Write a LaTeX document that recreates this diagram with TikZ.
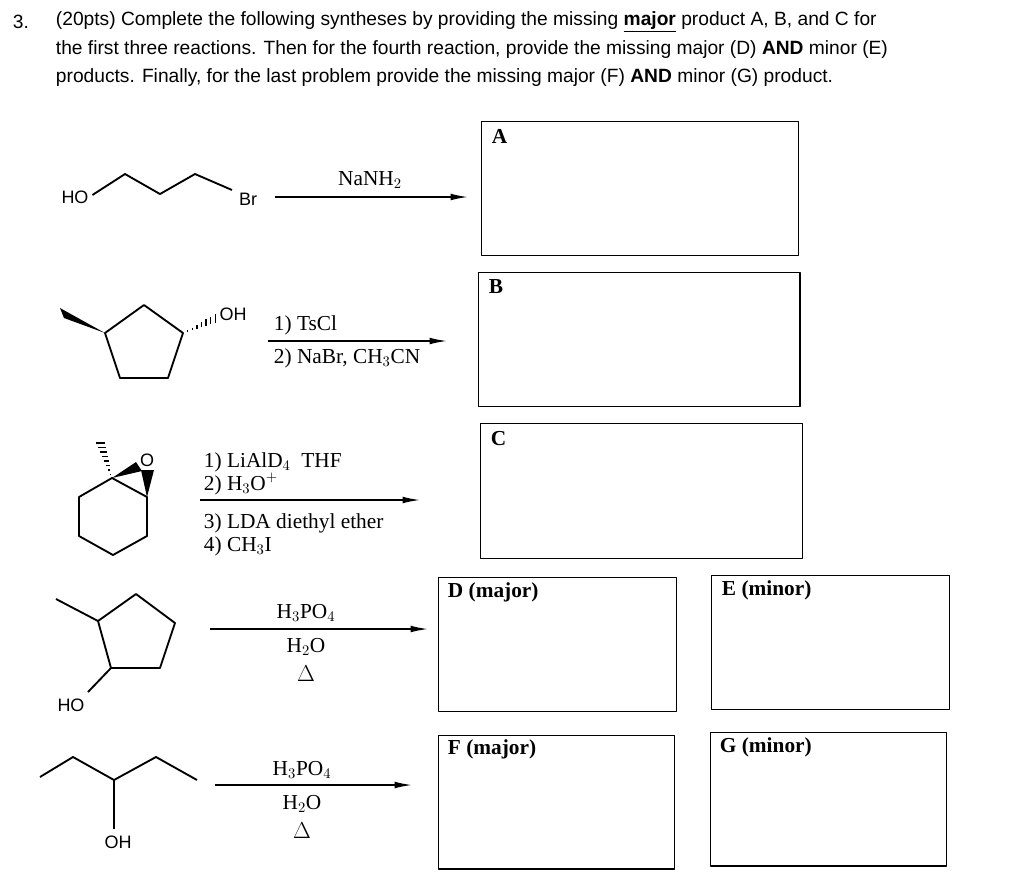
\documentclass[tikz,border=0pt]{standalone}
\usepackage{fontspec}
\setmainfont{Liberation Serif}
\newfontfamily\hsans{Liberation Sans}
\usetikzlibrary{arrows.meta,calc}
\begin{document}
\begin{tikzpicture}[x=0.75pt,y=-0.75pt,line width=1.4pt,line join=round,
  hdr/.style={anchor=west,font=\hsans\fontsize{14.4}{16}\selectfont,inner sep=0},
  atm/.style={font=\hsans\fontsize{13.5}{15}\selectfont,inner sep=0},
  rg/.style={font=\fontsize{16}{18}\selectfont,inner sep=0},
  ans/.style={draw,line width=1.1pt},
  blab/.style={anchor=north west,font=\bfseries\fontsize{16}{18}\selectfont,inner sep=0},
  rarr/.style={-{Latex[length=13pt,width=5pt]},line width=1.1pt},
  wedge/.style={fill=black,draw=none}]
\useasboundingbox (0,0) rectangle (1024,872);
% header
\node[hdr] (h0) at (12,22) {3.};
\node[hdr] (h1) at (55,22) {(20pts) Complete the following syntheses by providing the missing \textbf{\underline{major}} product A, B, and C for};
\node[hdr] (h2) at (55,50) {the first three reactions. Then for the fourth reaction, provide the missing major (D) \textbf{AND} minor (E)};
\node[hdr] (h3) at (55,78) {products. Finally, for the last problem provide the missing major (F) \textbf{AND} minor (G) product.};
% boxes
\node[ans,minimum width=237.75,minimum height=100.5,anchor=north west,inner sep=0] (A) at (481,121) {};
\node[blab] at (491,128) {A};
\node[ans,anchor=north west,minimum width=241,minimum height=100.5,inner sep=0] (B) at (478,272) {};
\node[blab] at (488,279) {B};
\node[ans,anchor=north west,minimum width=241.5,minimum height=101,inner sep=0] (C) at (480,423) {};
\node[blab] at (490,430) {C};
\node[ans,anchor=north west,minimum width=178.5,minimum height=100.5,inner sep=0] (D) at (438,577) {};
\node[blab] at (447,582) {D (major)};
\node[ans,anchor=north west,minimum width=178.5,minimum height=100.5,inner sep=0] (E) at (711,575) {};
\node[blab] at (721,580) {E (minor)};
\node[ans,anchor=north west,minimum width=177,minimum height=100,inner sep=0] (F) at (438,735) {};
\node[blab] at (447,739) {F (major)};
\node[ans,anchor=north west,minimum width=177,minimum height=100,inner sep=0] (G) at (710,732) {};
\node[blab] at (719,737) {G (minor)};
% reaction 1
\node[atm] (ho1) at (75,197) {HO};
\node[atm] (br1) at (248,199) {Br};
\coordinate (c1a) at (125,174);
\coordinate (c1b) at (160,194);
\coordinate (c1c) at (195,174);
\draw (ho1.east) ++(3,-2) -- (c1a) -- (c1b) -- (c1c) -- (232,190);
\coordinate (a1s) at (275,197); \coordinate (a1e) at (468,197);
\draw[rarr] (a1s) -- (a1e);
\node[rg] at (370,180) {NaNH$_2$};
% reaction 2
\coordinate (p1) at (144,305); \coordinate (p2) at (105,333); \coordinate (p3) at (120,378);
\coordinate (p4) at (168,378); \coordinate (p5) at (183,333);
\draw (p1) -- (p2) -- (p3) -- (p4) -- (p5) -- cycle;
\fill[wedge] (p2) -- (60,308) -- (64,318) -- cycle;
\foreach \t in {0.14,0.28,...,1.0} {
  \draw[line width=1.1pt] ($(p5)!\t!(216,318)+(0,{-4.5*\t})$) -- ($(p5)!\t!(216,318)+(0,{4.5*\t})$);}
\node[atm] (oh2) at (233,314) {OH};
\coordinate (a2s) at (268,341); \coordinate (a2e) at (447,341);
\draw[rarr] (a2s) -- (a2e);
\node[rg,anchor=west] at (273,325) {1) TsCl};
\node[rg,anchor=west] at (273,358) {2) NaBr, CH$_3$CN};
% reaction 3
\coordinate (q1) at (112,478); \coordinate (q2) at (147,497); \coordinate (q3) at (147,536);
\coordinate (q4) at (113,555); \coordinate (q5) at (79,536); \coordinate (q6) at (79,497);
\draw (q1) -- (q2) -- (q3) -- (q4) -- (q5) -- (q6) -- cycle;
\node[atm] (o3) at (147,460) {O};
\fill[wedge] (q1) -- (136,462) -- (142,471) -- cycle;
\fill[wedge] (q2) -- (141,470) -- (154,470) -- cycle;
\foreach \t in {0.1,0.22,...,1.0} {
  \draw[line width=1.1pt] ($(q1)!\t!(100,441)+({-5*\t},0)$) -- ($(q1)!\t!(100,441)+({5*\t},0)$);}
\coordinate (a3s) at (200,500); \coordinate (a3e) at (420,500);
\draw[rarr] (a3s) -- (a3e);
\node[rg,anchor=west] at (203,462) {1) LiAlD$_4$\ \ THF};
\node[rg,anchor=west] at (203,484) {2) H$_3$O$^+$};
\node[rg,anchor=west] at (203,523) {3) LDA diethyl ether};
\node[rg,anchor=west] at (203,546) {4) CH$_3$I};
% reaction 4
\coordinate (r1) at (111,668); \coordinate (r2) at (98,621); \coordinate (r3) at (136,594);
\coordinate (r4) at (175,623); \coordinate (r5) at (160,668);
\draw (r1) -- (r2) -- (r3) -- (r4) -- (r5) -- cycle;
\draw (r2) -- (56,599);
\node[atm] (ho4) at (71,705) {HO};
\draw (r1) -- (88,692);
\coordinate (a4s) at (210,629); \coordinate (a4e) at (428,629);
\draw[rarr] (a4s) -- (a4e);
\node[rg] at (306,613) {H$_3$PO$_4$};
\node[rg] at (306,647) {H$_2$O};
\node[rg] at (306,674) {$\Delta$};
% reaction 5
\coordinate (s1) at (40,777); \coordinate (s2) at (73,757); \coordinate (s3) at (114,780);
\coordinate (s4) at (156,757); \coordinate (s5) at (197,780);
\draw (s1) -- (s2) -- (s3) -- (s4) -- (s5);
\node[atm] (oh5) at (118,842) {OH};
\draw (s3) -- (114,829);
\coordinate (a5s) at (215,785); \coordinate (a5e) at (412,785);
\draw[rarr] (a5s) -- (a5e);
\node[rg] at (302,770) {H$_3$PO$_4$};
\node[rg] at (302,804) {H$_2$O};
\node[rg] at (302,831) {$\Delta$};
\end{tikzpicture}
\end{document}
